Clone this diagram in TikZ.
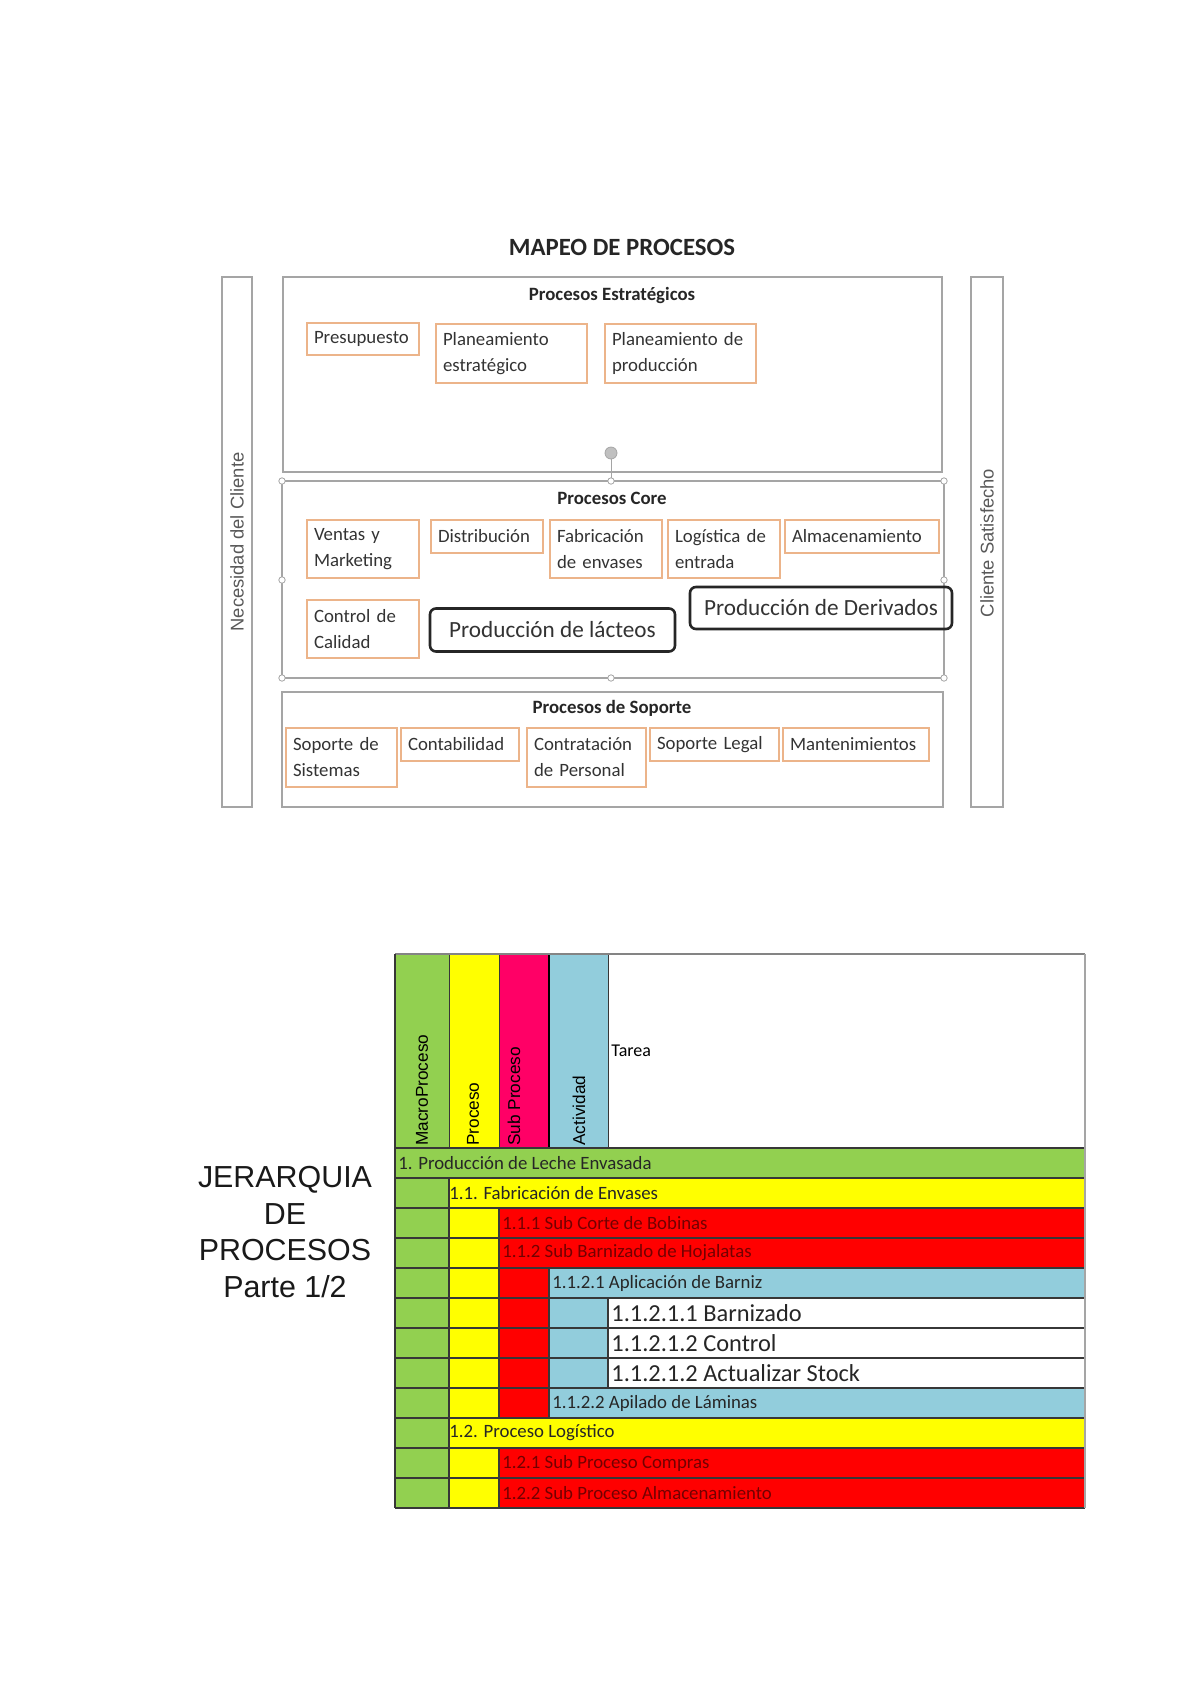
\documentclass[tikz,border=0pt]{standalone}
\usepackage{fontspec}
\setmainfont{Carlito}
\newfontfamily\arialfont{Liberation Sans}
\definecolor{boxorange}{RGB}{236,180,138}
\definecolor{framegray}{RGB}{165,165,165}
\definecolor{macrogreen}{RGB}{146,208,80}
\definecolor{procyellow}{RGB}{255,255,0}
\definecolor{subpink}{RGB}{255,0,102}
\definecolor{subred}{RGB}{255,0,0}
\definecolor{actblue}{RGB}{146,205,220}
\definecolor{gridline}{RGB}{55,55,55}
\colorlet{lev0}{macrogreen}
\colorlet{lev1}{procyellow}
\colorlet{lev2}{subred}
\colorlet{lev3}{actblue}
\colorlet{lev4}{white}
\tikzset{
  framebox/.style={draw=framegray, line width=0.6pt},
  procbox/.style={draw=boxorange, line width=1pt, anchor=north west, align=left,
    inner xsep=3.5pt, inner ysep=0pt, text=black!80, font=\fontsize{9.4}{13}\selectfont},
  prodbox/.style={draw=black!85, line width=1.3pt, rounded corners=3pt, inner sep=0pt,
    text=black!80, font=\fontsize{11.6}{14}\selectfont},
  sectitle/.style={text=black!85, font=\bfseries\fontsize{9.4}{11}\selectfont},
  handle/.style={draw=framegray, fill=white, line width=0.4pt},
  sidetext/.style={rotate=90, text=black!65, font=\arialfont\fontsize{9.2}{11}\selectfont},
  headtext/.style={rotate=90, anchor=west, inner sep=0.5pt, font=\arialfont\fontsize{8.6}{10}\selectfont},
  gridrule/.style={draw=gridline, line width=0.7pt},
  rowtext/.style={anchor=west, inner sep=0pt, font=\fontsize{9.4}{11}\selectfont, text=black!85},
  rowtext0/.style={rowtext},
  rowtext1/.style={rowtext, xshift=-1.5pt},
  rowtext2/.style={rowtext, text=red!45!black},
  rowtext3/.style={rowtext},
  rowtext4/.style={rowtext, font=\fontsize{12.2}{14}\selectfont},
}
\begin{document}
\begin{tikzpicture}[x=0.5pt,y=-0.5pt]
\useasboundingbox (0,0) rectangle (1200,1698);

% mapeo de procesos
\node[font=\bfseries\fontsize{12.4}{15}\selectfont, text=black!85] (title) at (622,247) {MAPEO DE PROCESOS};

\draw[framebox] (222,277) rectangle (252,807);
\draw[framebox] (971,277) rectangle (1003,807);
\node[sidetext] (necesidad) at (237,542) {Necesidad del Cliente};
\node[sidetext] (satisfecho) at (987,543) {Cliente Satisfecho};

% procesos estrategicos
\draw[framebox] (283,277) rectangle (942,472);
\node[sectitle] (tEstr) at (612,295) {Procesos Estratégicos};
\node[procbox, text width=49pt, minimum height=16pt] (presup) at (306,322) {Presupuesto};
\node[procbox, text width=68.5pt, minimum height=29.5pt] (planEstr) at (435,323) {Planeamiento\\estratégico};
\node[procbox, text width=68.5pt, minimum height=29.5pt] (planProd) at (604,323) {Planeamiento de\\producción};

% procesos core (seleccionado)
\draw[framebox] (282,481) rectangle (944,678);
\draw[draw=framegray, line width=1.4pt] (282,481) -- (944,481);
\draw[framegray, line width=0.5pt] (611,459) -- (611,481);
\draw[handle, fill=framegray!70] (611,453) circle (3pt);
\foreach \hx/\hy in {282/481, 611/481, 944/481, 282/580, 944/580, 282/678, 611/678, 944/678}
  \draw[handle] (\hx,\hy) circle (1.6pt);
\node[sectitle] (tCore) at (612,498) {Procesos Core};
\node[procbox, text width=49pt, minimum height=29pt] (ventas) at (306,519) {Ventas y\\Marketing};
\node[procbox, text width=49pt, minimum height=16.5pt] (distrib) at (430,519) {Distribución};
\node[procbox, text width=49pt, minimum height=29pt] (fabric) at (549,519) {Fabricación\\de envases};
\node[procbox, text width=49pt, minimum height=29pt] (logist) at (667,519) {Logística de\\entrada};
\node[procbox, text width=70pt, minimum height=16.5pt] (almac) at (784,519) {Almacenamiento};
\node[procbox, text width=49pt, minimum height=29pt] (calidad) at (306,599) {Control de\\Calidad};
\node[prodbox, minimum width=122.5pt, minimum height=21.5pt] (lacteos) at (552.5,630) {Producción de lácteos};
\node[prodbox, minimum width=131pt, minimum height=21pt] (derivados) at (821,608) {Producción de Derivados};

% procesos de soporte
\draw[framebox] (282,692) rectangle (943,807);
\node[sectitle] (tSop) at (612,708) {Procesos de Soporte};
\node[procbox, text width=48.5pt, minimum height=29.5pt] (sopSis) at (285,727) {Soporte de\\Sistemas};
\node[procbox, text width=52pt, minimum height=16.5pt] (contab) at (400,727) {Contabilidad};
\node[procbox, text width=52.5pt, minimum height=29.5pt] (contrat) at (526,727) {Contratación\\de Personal};
\node[procbox, text width=57.5pt, minimum height=16.5pt] (sopLegal) at (649,727) {Soporte Legal};
\node[procbox, text width=66pt, minimum height=16.5pt] (manten) at (782,727) {Mantenimientos};

% jerarquia de procesos
\node[align=center, text=black!90, font=\arialfont\fontsize{15.2}{18.2}\selectfont] (jerarq) at (285,1232) {JERARQUIA\\DE\\PROCESOS\\Parte 1/2};

% cabecera
\foreach \xa/\xb/\col in {395/449/macrogreen, 449/499/procyellow, 499/549/subpink, 549/608/actblue}
  \fill[\col] (\xa,954) rectangle (\xb,1148);
\foreach \xa/\xb/\col in {395/449/macrogreen, 449/499/procyellow, 499/549/subred, 549/608/actblue}
  \fill[\col] (\xa,1148) rectangle (\xb,1508);
\foreach \xc in {449,499,608}
  \draw[gridrule, line width=0.5pt] (\xc,954) -- (\xc,1148);
\draw[draw=black, line width=1pt] (549,954) -- (549,1148);
\draw[draw=framegray!80!black, line width=1pt] (395,954) -- (1085,954);
\node[headtext] (hMacro) at (422,1147) {MacroProceso};
\node[headtext] (hProc) at (473,1147) {Proceso};
\node[headtext] (hSub) at (514,1147) {Sub Proceso};
\node[headtext] (hAct) at (579,1147) {Actividad};
\node[anchor=west, inner sep=0pt, font=\fontsize{9}{11}\selectfont] (hTarea) at (611,1051) {Tarea};

% filas
\foreach \lev/\txt [count=\r from 0] in {
    0/{1. Producción de Leche Envasada},
    1/{1.1. Fabricación de Envases},
    2/{1.1.1 Sub Corte de Bobinas},
    2/{1.1.2 Sub Barnizado de Hojalatas},
    3/{1.1.2.1 Aplicación de Barniz},
    4/{1.1.2.1.1 Barnizado},
    4/{1.1.2.1.2 Control},
    4/{1.1.2.1.2 Actualizar Stock},
    3/{1.1.2.2 Apilado de Láminas},
    1/{1.2. Proceso Logístico},
    2/{1.2.1 Sub Proceso Compras},
    2/{1.2.2 Sub Proceso Almacenamiento}} {
  \pgfmathsetmacro\xs{{395,449,499,549,608}[\lev]}
  \pgfmathsetmacro\ya{1148+30*\r}
  \fill[lev\lev] (\xs,\ya) rectangle (1085,\ya+30);
  \foreach \c in {1,...,4} {
    \ifnum\c>\lev\relax\else
      \pgfmathsetmacro\xc{{395,449,499,549,608}[\c]}
      \draw[gridrule] (\xc,\ya) -- (\xc,\ya+30);
    \fi
  }
  \draw[gridrule] (395,\ya) -- (1085,\ya);
  \node[rowtext\lev] (row\r) at (\xs+3,\ya+15) {\txt};
}
\draw[gridrule] (395,1508) -- (1085,1508);
\draw[gridrule] (395,954) -- (395,1508);
\draw[draw=framegray, line width=0.6pt] (1085,954) -- (1085,1508);

\end{tikzpicture}
\end{document}
